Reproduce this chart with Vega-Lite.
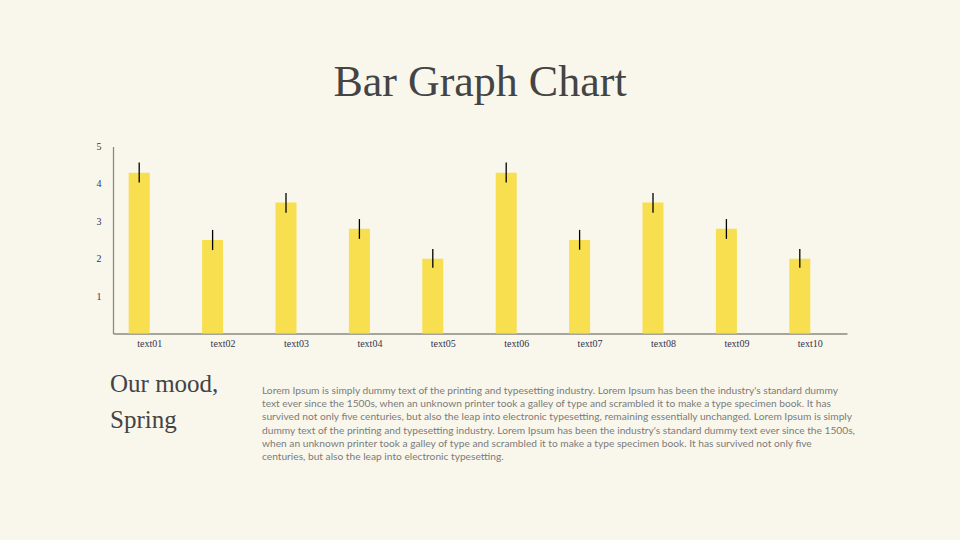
{
  "$schema": "https://vega.github.io/schema/vega-lite/v6.json",
  "background": "#F9F7EC",
  "padding": {"left": 96, "top": 60.5, "right": 108, "bottom": 73.5},
  "config": {"view": {"stroke": null}},
  "spacing": 22.7,
  "vconcat": [
    {
      "width": 734,
      "height": 187,
      "title": {
        "text": "Bar Graph Chart",
        "font": "Liberation Serif",
        "fontSize": 44,
        "fontWeight": "normal",
        "color": "#444444",
        "anchor": "middle",
        "frame": "group",
        "baseline": "alphabetic",
        "offset": 1.5
      },
      "data": {
        "values": [
          {"label": "text01", "value": 4.3, "low": 4.04, "high": 4.57},
          {"label": "text02", "value": 2.5, "low": 2.23, "high": 2.77},
          {"label": "text03", "value": 3.5, "low": 3.23, "high": 3.76},
          {"label": "text04", "value": 2.8, "low": 2.53, "high": 3.06},
          {"label": "text05", "value": 2.0, "low": 1.76, "high": 2.26},
          {"label": "text06", "value": 4.3, "low": 4.04, "high": 4.57},
          {"label": "text07", "value": 2.5, "low": 2.24, "high": 2.77},
          {"label": "text08", "value": 3.5, "low": 3.23, "high": 3.76},
          {"label": "text09", "value": 2.8, "low": 2.53, "high": 3.06},
          {"label": "text10", "value": 2.0, "low": 1.76, "high": 2.26}
        ]
      },
      "encoding": {
        "x": {
          "field": "label",
          "type": "nominal",
          "sort": null,
          "scale": {"paddingInner": 0, "paddingOuter": 0},
          "axis": {
            "title": null,
            "labelAngle": 0,
            "ticks": false,
            "domainColor": "#8a8a80",
            "domainWidth": 1.3,
            "labelFont": "Liberation Serif",
            "labelFontSize": 10,
            "labelColor": "#33334d",
            "labelPadding": 5
          }
        }
      },
      "layer": [
        {
          "mark": {"type": "bar", "color": "#F7DF4F", "width": 21, "xOffset": -10.5},
          "encoding": {
            "y": {
              "field": "value",
              "type": "quantitative",
              "scale": {"domain": [0, 5], "nice": false},
              "axis": {
                "title": null,
                "values": [1, 2, 3, 4, 5],
                "ticks": false,
                "grid": false,
                "domainColor": "#8a8a80",
                "domainWidth": 1.3,
                "labelFont": "Liberation Serif",
                "labelFontSize": 10,
                "labelColor": "#33334d",
                "labelPadding": 12
              }
            }
          }
        },
        {
          "mark": {"type": "rule", "color": "#000000", "strokeWidth": 1.3, "xOffset": -10.5},
          "encoding": {
            "y": {"field": "low", "type": "quantitative"},
            "y2": {"field": "high"}
          }
        }
      ]
    },
    {
      "spacing": 10,
      "hconcat": [
        {
          "width": 139,
          "height": 73.2,
          "data": {
            "values": [
              {"line": 1, "text": "Our mood,"},
              {"line": 2, "text": "Spring"}
            ]
          },
          "mark": {
            "type": "text",
            "align": "left",
            "baseline": "alphabetic",
            "font": "Liberation Serif",
            "fontSize": 25,
            "color": "#444444",
            "dx": -3
          },
          "encoding": {
            "y": {"field": "line", "type": "ordinal", "axis": null, "scale": {"type": "point", "padding": 0.5}},
            "x": {"value": 0},
            "text": {"field": "text"}
          }
        },
        {
          "width": 590,
          "height": 93.3,
          "data": {
            "values": [
              {"line": 1, "text": "Lorem Ipsum is simply dummy text of the printing and typesetting industry. Lorem Ipsum has been the industry's standard dummy"},
              {"line": 2, "text": "text ever since the 1500s, when an unknown printer took a galley of type and scrambled it to make a type specimen book. It has"},
              {"line": 3, "text": "survived not only five centuries, but also the leap into electronic typesetting, remaining essentially unchanged. Lorem Ipsum is simply"},
              {"line": 4, "text": "dummy text of the printing and typesetting industry. Lorem Ipsum has been the industry's standard dummy text ever since the 1500s,"},
              {"line": 5, "text": "when an unknown printer took a galley of type and scrambled it to make a type specimen book. It has survived not only five"},
              {"line": 6, "text": "centuries, but also the leap into electronic typesetting."}
            ]
          },
          "mark": {
            "type": "text",
            "align": "left",
            "baseline": "alphabetic",
            "font": "Lato",
            "fontSize": 10.2,
            "color": "#7b7b7b",
            "dy": 7.3
          },
          "encoding": {
            "y": {"field": "line", "type": "ordinal", "axis": null, "scale": {"type": "point", "padding": 1}},
            "x": {"value": 0},
            "text": {"field": "text"}
          }
        }
      ]
    }
  ]
}
